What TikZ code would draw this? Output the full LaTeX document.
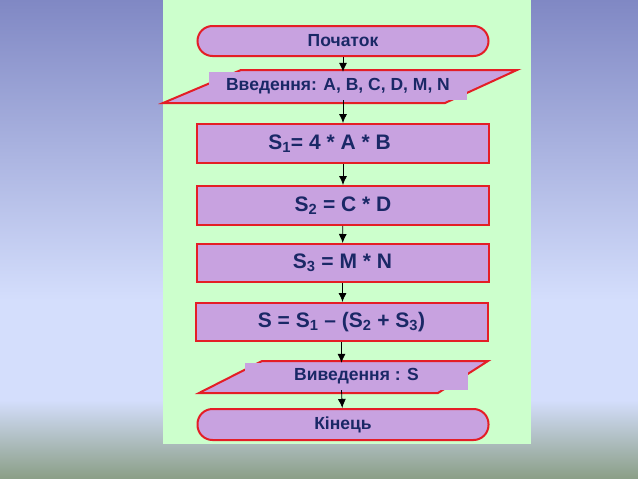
\documentclass[tikz,border=0pt]{standalone}
\usepackage{fontspec}
\setmainfont{Liberation Sans}
\usetikzlibrary{arrows.meta}

\definecolor{bgtop}{HTML}{8088C4}
\definecolor{bgmid}{HTML}{D4DEFC}
\definecolor{bgbot}{HTML}{8A9E86}
\definecolor{panel}{HTML}{CCFFCC}
\definecolor{lilac}{HTML}{C8A2E0}
\definecolor{redline}{HTML}{E41E26}
\definecolor{navy}{HTML}{1A2866}

\begin{document}
\begin{tikzpicture}[x=1pt,y=-1pt,
			term/.style = {draw=redline,line width=2pt,fill=lilac,rounded corners=15pt,
				minimum width=291pt,minimum height=30pt,inner sep=0pt},
			box/.style = {draw=redline,line width=2pt,fill=lilac,
				minimum width=292pt,minimum height=38pt,inner sep=0pt},
			para/.style = {draw=redline,line width=2pt,fill=lilac,line join=miter},
			tbox/.style = {fill=lilac,inner sep=0pt},
			txt/.style = {text=navy,font=\bfseries\fontsize{17.5}{20}\selectfont},
			big/.style = {text=navy,font=\bfseries\fontsize{21}{24}\selectfont},
			arr/.style = {-{Latex[length=9pt,width=8pt]},line width=0.8pt,black}]
			\useasboundingbox (0,0) rectangle (638,479);
			% background
			\shade[top color=bgtop,bottom color=bgmid] (0,0) rectangle (638,300);
			\fill[bgmid] (0,299) rectangle (638,401);
			\shade[top color=bgmid,bottom color=bgbot] (0,400) rectangle (638,479);
			\fill[panel] (163,0) rectangle (531,444);
			% shapes
			\node [term,txt] (start) at (343,41) {Початок};
			\draw [para] (163,103) -- (241,70) -- (517,70) -- (445,103) -- cycle;
			\node [tbox,txt,minimum width=258pt,minimum height=28pt] (input) at (338,86) {Введення: A, B, C, D, M, N};
			\node [box,big,minimum height=39pt] (s1) at (343,143.5) {S\textsubscript{1}= 4 * A * B\kern27pt};
			\node [box,big,minimum height=39pt] (s2) at (343,205.5) {S\textsubscript{2} = C * D};
			\node [box,big] (s3) at (342.5,263) {S\textsubscript{3} = M * N};
			\node [box,big] (s) at (341.5,322) {S = S\textsubscript{1} \textendash{} (S\textsubscript{2} + S\textsubscript{3})};
			\draw [para] (199,393) -- (262,361) -- (488,361) -- (438,393) -- cycle;
			\node [tbox,txt,minimum width=223pt,minimum height=27pt] (output) at (356.5,376.5) {Виведення : S};
			\node [term,txt,minimum height=31pt] (finish) at (343,424.5) {Кінець};
			% arrows
			\draw [arr] (start) -- (start |- input.north);
			\draw [arr] (start |- input.south) -- (s1);
			\draw [arr] (s1) -- (s2);
			\draw [arr] (s2) -- (s3);
			\draw [arr] (s3) -- (s3 |- s.north);
			\draw [arr] (s) -- (s |- output.north);
			\draw [arr] (s |- output.south) -- (finish);
		\end{tikzpicture}
\end{document}
